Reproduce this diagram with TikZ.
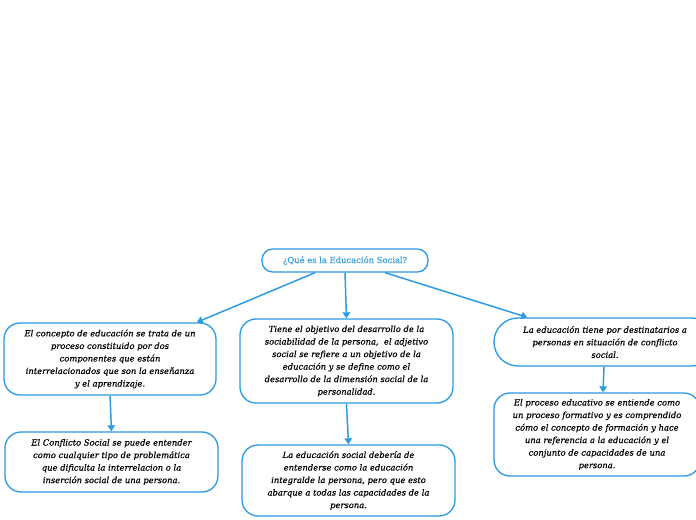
\documentclass[tikz,border=0pt]{standalone}
\usepackage{fontspec}
\setmainfont{DejaVu Serif}
\newfontfamily\bodyfont{DejaVu Serif}[ItalicFeatures={FakeBold=0.5}]
\newfontfamily\headfont{DejaVu Serif}[FakeBold=0.4]
\usetikzlibrary{arrows.meta,calc}
\definecolor{edgeblue}{HTML}{2A9BE0}
\definecolor{titleblue}{HTML}{3AA0E0}
\begin{document}
\begin{tikzpicture}[x=0.75pt,y=-0.75pt,
  box/.style={draw=edgeblue,line width=1pt,rounded corners=12pt,fill=white,align=center,
    font=\fontsize{6.3pt}{9.4pt}\bodyfont\itshape,text=black,inner sep=2pt},
  titlebox/.style={draw=edgeblue,line width=1pt,rounded corners=8pt,align=center,
    font=\fontsize{6.3pt}{8pt}\headfont,text=titleblue},
  conn/.style={draw=edgeblue,line width=1.1pt,-{Triangle[width=5.5pt,length=4.5pt]}}]
\useasboundingbox (0,0) rectangle (696,520);
\fill[white] (0,0) rectangle (696,520);

\node[titlebox,minimum width=124.5pt,minimum height=17.25pt] (title) at (345,260.5) {¿Qué es la Educación Social?};

\node[box,minimum width=159pt,minimum height=54pt] (L1) at (110,359)
 {El concepto de educación se trata de un\\proceso constituido por dos\\componentes que están\\interrelacionados que son la enseñanza\\y el aprendizaje.};

\node[box,minimum width=159.75pt,minimum height=63pt] (M1) at (346.5,361)
 {Tiene el objetivo del desarrollo de la\\sociabilidad de la persona,\ \ el adjetivo\\social se refiere a un objetivo de la\\educación y se define como el\\desarrollo de la dimensión social de la\\personalidad.};

\node[box,rounded corners=18pt,minimum width=166.5pt,minimum height=36pt] (R1) at (605,342)
 {La educación tiene por destinatarios a\\personas en situación de conflicto\\social.};

\node[box,minimum width=159.75pt,minimum height=45pt] (L2) at (111.5,462)
 {El Conflicto Social se puede entender\\como cualquier tipo de problemática\\que dificulta la interrelacion o la\\inserción social de una persona.};

\node[box,minimum width=159.75pt,minimum height=53.25pt] (M2) at (348.5,480.5)
 {La educación social debería de\\entenderse como la educación\\integralde la persona, pero que esto\\abarque a todas las capacidades de la\\persona.};

\node[box,minimum width=154.5pt,minimum height=62.25pt] (R2) at (597,434.5)
 {El proceso educativo se entiende como\\un proceso formativo y es comprendido\\cómo el concepto de formación y hace\\una referencia a la educación y el\\conjunto de capacidades de una\\persona.};

\draw[conn] ($(title.south)+(-30,0)$) -- ($(L1.north east)+(-20,0)$);
\draw[conn] (title.south) -- (M1.north);
\draw[conn] ($(title.south)+(40,0)$) -- ($(R1.north west)+(34,0)$);
\draw[conn] (L1.south) -- (L2.north);
\draw[conn] (M1.south) -- (M2.north);
\draw[conn] ($(R1.south)+(-1,0)$) -- ($(R2.north)+(6,0)$);
\end{tikzpicture}
\end{document}
